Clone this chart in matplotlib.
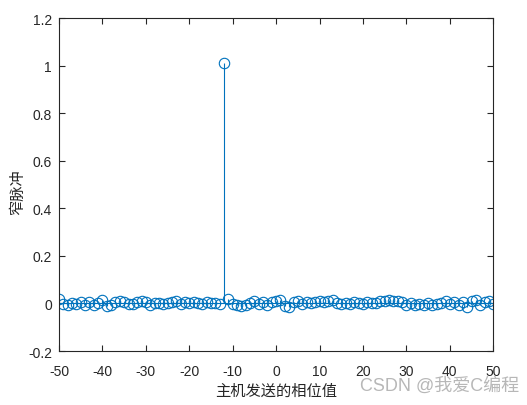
import numpy as np
import matplotlib
matplotlib.use('Agg')
import matplotlib.pyplot as plt

plt.rcParams['font.family'] = ['Liberation Sans', 'Noto Sans CJK SC', 'DejaVu Sans']
plt.rcParams['axes.unicode_minus'] = False

# phase values -50..50 and correlation output
phase = np.arange(-50, 51)
pulse = [0.018, -0.004, -0.008, 0.002, -0.003, 0.006, -0.006, 0.004, -0.007, 0.002,
         0.015, -0.012, -0.006, 0.008, 0.010, 0.004, -0.004, -0.002, 0.006, 0.009,
         0.004, -0.006, 0.003, 0.001, -0.003, 0.002, 0.007, 0.010, -0.002, 0.006,
         0.001, 0.005, 0.002, -0.004, 0.004, 0.002, 0.003, -0.003, 1.012, 0.018,
         -0.004, -0.006, -0.010, -0.006, 0.003, 0.010, -0.002, 0.004, -0.006, 0.004,
         0.009, 0.016, -0.012, -0.014, 0.006, 0.010, -0.004, 0.008, 0.002, 0.006,
         0.010, 0.004, 0.012, 0.016, 0.002, -0.004, 0.003, -0.002, 0.006, 0.001,
         -0.004, 0.008, 0.003, 0.001, 0.012, 0.010, 0.014, 0.012, 0.010, 0.006,
         -0.006, 0.003, -0.005, -0.003, -0.006, 0.002, -0.005, -0.003, 0.003, 0.010,
         -0.004, 0.006, -0.006, 0.008, -0.014, 0.010, 0.014, -0.008, 0.004, 0.010,
         -0.001]

fig = plt.figure(figsize=(5.27, 4.06), dpi=100)
ax = fig.add_axes([0.112, 0.133, 0.824, 0.820])

col = '#0072BD'
markerline, stemlines, baseline = ax.stem(phase, pulse, basefmt=' ')
plt.setp(markerline, color=col, marker='o', markerfacecolor='none', markersize=7.5, markeredgewidth=0.8)
plt.setp(stemlines, color=col, linewidth=0.8)
ax.plot([-50, 50], [0, 0], color=col, linewidth=0.8)

ax.set_xlim(-50, 50)
ax.set_ylim(-0.2, 1.2)
ax.set_xticks(np.arange(-50, 51, 10))
ax.set_yticks(np.arange(-0.2, 1.21, 0.2))
ax.set_yticklabels(['-0.2', '0', '0.2', '0.4', '0.6', '0.8', '1', '1.2'])
ax.tick_params(direction='in', top=True, right=True, labelsize=10, colors='#262626', length=4)
ax.tick_params(axis='x', pad=9)
ax.tick_params(axis='y', pad=5)
for s in ax.spines.values():
    s.set_linewidth(0.8)
    s.set_color('#262626')

ax.set_xlabel('主机发送的相位值', fontsize=11, family=['Noto Sans CJK SC'], labelpad=3, color='#262626')
ax.set_ylabel('窄脉冲', fontsize=11, family=['Noto Sans CJK SC'], color='#262626')
ax.yaxis.set_label_coords(-0.075, 0.48)

fig.text(0.985, 0.05, 'CSDN @我爱C编程', ha='right', va='center', fontsize=13,
         color='#b0b0b0', family=['Liberation Sans', 'Noto Sans CJK SC'], alpha=0.9)

fig.savefig('out.png', dpi=100)
